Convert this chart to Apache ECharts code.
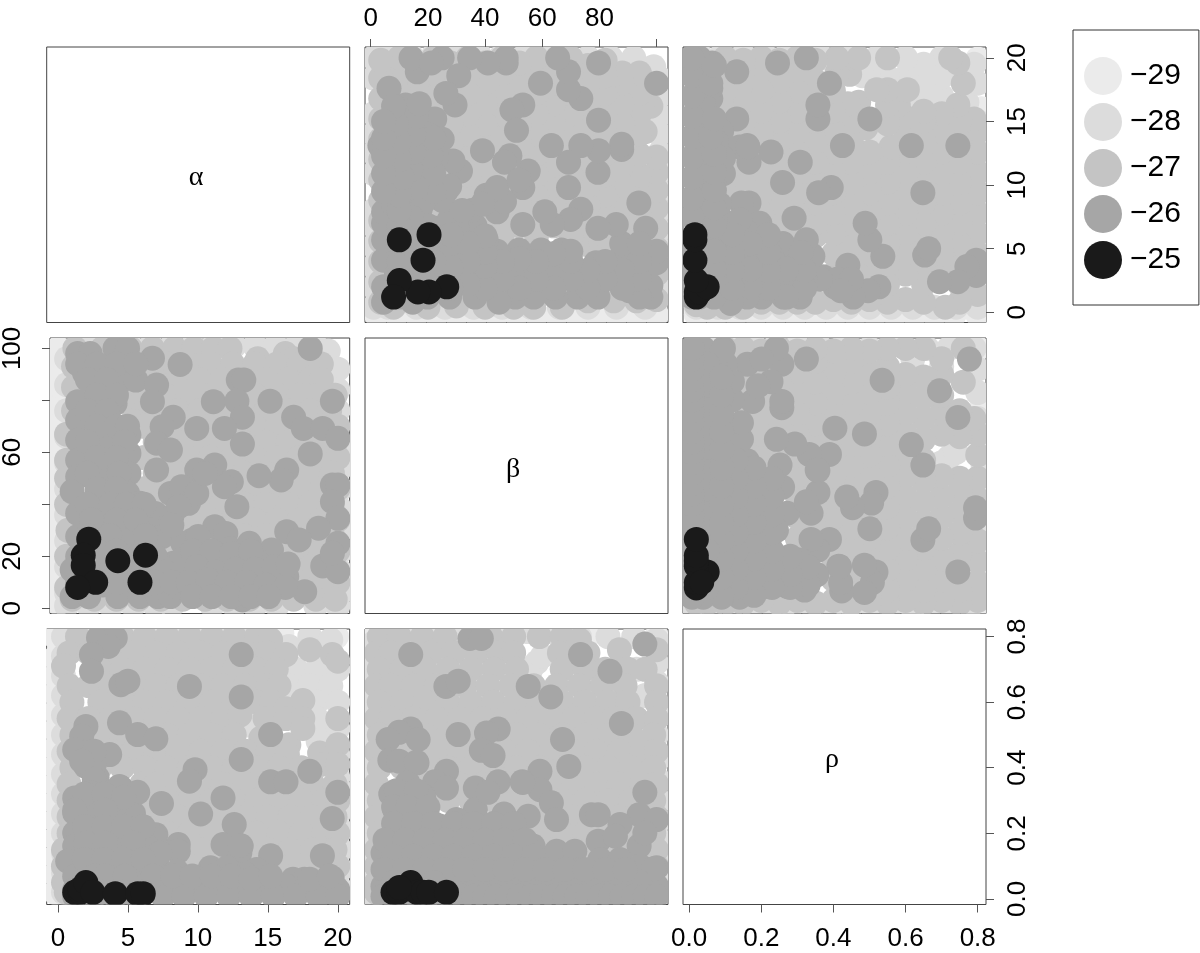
<!DOCTYPE html>
<html>
<head>
<meta charset="utf-8">
<style>
  html, body { margin: 0; padding: 0; background: #ffffff; }
  #chart { width: 1200px; height: 953px; }
</style>
<script src="https://cdn.jsdelivr.net/npm/echarts@6/dist/echarts.min.js"></script>
</head>
<body>
<div id="chart"></div>
<script>
// legend levels, lightest first (drawn first)
const levelNames = ["\u221229", "\u221228", "\u221227", "\u221226", "\u221225"];
const levelColors = ["#ebebeb", "#dcdcdc", "#c4c4c4", "#a6a6a6", "#1a1a1a"];

const alphaTicks = [0, 5, 10, 15, 20];
const betaTicks = [0, 20, 40, 60, 80, 100];
const rhoTicks = [0, 0.2, 0.4, 0.6, 0.8];
const betaTopLabels = [0, 20, 40, 60, 80];
const betaLeftLabels = [0, 20, 60, 100];

// alpha, beta
const ab29 = [
  [-0.2,2],[-0.2,9],[-0.2,16],[-0.2,23],[-0.2,30],[-0.2,37],[-0.2,44],[-0.2,51],[-0.2,58],[-0.2,65],[-0.2,72],[-0.2,79],[-0.2,86],[-0.2,93],[-0.2,100]
];
const ab28 = [
  [0.4,6],[0.4,16],[0.4,26],[0.4,36],[0.4,46],[0.4,56],[0.4,66],[0.4,76],[0.4,86],[0.4,96],
  [2,101],[3.5,101],[5,101],[6.5,101],[8,101],[9.5,101],[11,101],[12.5,101],[14,101],[15.5,101],[17,101],[18.4,101],[19.3,99],
  [20,92],[20,84],[20,76],[19.9,70],[20.2,62],[20.2,54],[20.2,46],[20.2,38],[20.2,30],[20.2,22],[20.2,14],[20.2,6],
  [0.4,1],[2,1],[3.6,1],[5.2,1],[6.8,1],[8,1],[10.9,1],[12.5,1],[14,1],[15.6,1],[18.4,1],[20,1]
];
const ab27 = [
  [1,100],[3,100],[5,100],[6.6,100],[8.2,100],[9.6,100],[11,100],[12.2,100],[14.2,96],[16.2,98],[16.8,96],[18.6,94],
  [0.9,93],[0.9,85],[0.9,76],[0.4,67],[0.4,57],[0.4,50],[0.4,40],[0.5,30],[0.4,20],[0.4,8],
  [5.2,82],[5.2,77],[5.2,72],[7.9,23],[8,26],
  [6,94],[7.6,94],[9.2,94],[10.8,94],[12.4,94],[14,94],[15.6,94],[17.2,94],[18.8,94],
  [6.8,88],[8.4,88],[10,88],[11.6,88],[13.2,88],[14.8,88],[16.4,88],[18,88],[18.8,88],
  [6,82],[7.6,82],[9.2,82],[10.8,82],[12.4,82],[14,82],[15.6,82],[17.2,82],[18.6,82],[19.8,82],
  [6.8,76],[8.4,76],[10,76],[11.6,76],[13.2,76],[14.8,76],[16.4,76],[18,76],[19.4,76],
  [6,70],[7.6,70],[9.2,70],[10.8,70],[12.4,70],[14,70],[15.6,70],[17.2,70],[18.8,70],[20,70],
  [6.8,64],[8.4,64],[10,64],[11.6,64],[13.2,64],[14.8,64],[16.4,64],[18,64],[19.6,64],
  [6,58],[7.6,58],[9.2,58],[10.8,58],[12.4,58],[14,58],[15.6,58],[17.2,58],[18.8,58],[20,58],
  [6.8,52],[8.4,52],[10,52],[11.6,52],[13.2,52],[14.8,52],[16.4,52],[18,52],[19.6,52],
  [6,46],[7.6,46],[9.2,46],[10.8,46],[12.4,46],[14,46],[15.6,46],[17.2,46],[18.8,46],[20,46],
  [6.8,40],[8.4,40],[10,40],[11.6,40],[13.2,40],[14.8,40],[16.4,40],[18,40],[19.6,40],
  [6,34],[7.6,34],[9.2,34],[10.8,34],[12.4,34],[14,34],[15.6,34],[17.2,34],[18.8,34],[20,34],
  [8.4,28],[10,28],[11.6,28],[13.2,28],[14.8,28],[16.4,28],[18,28],[19.6,28],
  [9.2,22],[10.8,22],[12.4,22],[14,22],[15.6,22],[17.2,22],[18.8,22],[20,22],
  [10,16],[11.6,16],[13.2,16],[14.8,16],[16.4,16],[18,16],[19.6,16],
  [7.6,10],[9.2,10],[10.8,10],[12.4,10],[14,10],[15.6,10],[17.2,10],[18.8,10],[20,10],
  [0.8,3.5],[2.4,3.5],[4,3.5],[5.6,3.5],[7.2,3.5],[8.8,3.5],[10.4,3.5],[12,3.5],[13.6,3.5],[15.2,3.5],[16.8,3.5],[18.4,3.5],[19.8,3.5]
];
const ab26 = [
  [18,100],[8.6,93.8],[12.8,87.8],[13.2,87.8],[11,79.5],[12.7,79.7],[15.1,79.7],[19.6,79.7],[16.8,73.5],[13.1,73.5],
  [8.1,73.5],[9.8,69.2],[11.8,69.2],[17.5,69.2],[18.9,69.2],[20,65.4],[7.3,69.9],[6.9,63.5],[7.9,60.9],[13.1,63.2],
  [18,59.4],[16.3,53.2],[15.9,49.4],[14.3,51],[9.8,53.2],[11.1,55.1],[12.3,48.7],[11.8,46.8],[6.9,53.2],[19.6,47.4],
  [20,47.4],[19.6,41],[20,34.6],[12.7,39.1],[18.6,30.8],[16.3,29.5],[17.2,26.3],[20,25],[11.1,31.4],[11.9,28.8],
  [9.5,26.3],[18.9,16.3],[20,14.1],[19.6,21.2],[17.6,6.4],[16.3,12.2],[15.2,22.4],[15.2,10.9],[14,19.9],[13.1,3.2],
  [9.9,8.3],[11.1,7.1],[11.9,8.3],[13,17.3],[11.1,17.3],[9.2,12.2],
  [1.2,98],[2.1,98],[3.9,100],[4.8,100],[1.7,90.4],[6.6,96.2],[4.4,87.8],[5.4,87.8],[6.9,85.9],[6.6,79.5],
  [3,84.6],[1.2,79.5],[3.9,78.8],[1.2,72.4],[3,72.4],[1.2,64.7],[3,64.7],[4.9,66.7],[1.2,57],[3,57],
  [4.9,59.6],[1.2,50.6],[3,49.4],[4.9,51.9],[0.8,44.9],[2.7,42.9],[4.8,44.2],[5.7,40.4],[1.2,36.5],[3,36.5],
  [4.8,36.5],[6.8,36.5],[7.9,44.2],[8.7,46.8],[8,35.3],[9.2,40.4],[9.8,44.2],[10.4,51.9],[8.5,39.1],[6.6,30.1],
  [3,30.1],[4.9,27.6],[1.2,27.6],[1.2,19.9],[3,22.4],[4.9,19.9],[6.6,23.7],[7.3,27.6],[0.8,14.7],[3,14.7],
  [4.9,14.7],[6.6,14.7],[8.1,17.3],[0.8,4.5],[2,4.5],[4.1,4.5],[5.7,4.5],[7,4.5],[7.9,4.5],[8.8,25],
  [9.9,27.6],[8.7,18.6],[3,9],[6,9],[8.5,8],[12.8,11],[14.5,14],[12.2,23],[13.6,25],
  [1.2,94],[2.6,94],[4,94],[5.4,94],[1.9,88],[3.3,88],[2.6,82],[4,82],[1.9,76],[3.3,76],
  [2.6,70],[4,70],[4.8,70],[1.9,64],[4.6,64],[2.6,58],[4,58],[1.9,52],[4.2,52],[2.6,46],
  [4,46],[1.9,40],[3.6,40],[4.7,40],[6,40],[2.2,34],[4,34],[5.4,34],[8,32],[1.9,28],
  [3.5,28],[6.1,28],[2.6,22],[4,22],[5.6,20],[6.8,20],[1.9,16],[4,16],[6,16],[7.5,14],
  [1.2,10],[2.6,10],[4,10],[5.4,10],[6.8,10],[8,10],
  [9.5,22],[10.9,22],[12.3,21],[13.7,22],[9.8,16],[11.2,14],[12.6,15],[14,15],[15.4,16],[16.4,17],
  [9.2,10],[10.6,11],[12,10],[13.4,10],[14.8,9],[16.2,8],[9.5,4.5],[10.9,4.5],[12.3,4.5],[13.7,4.5],[15,4.5]
];
const ab25 = [
  [2,26.6],[1.6,20.4],[1.6,16.5],[2.5,10],[1.2,8],[4.1,18.3],[6.1,20.4],[5.7,10]
];

// alpha, rho
const ar29 = [
  [-0.2,0.02],[-0.2,0.075],[-0.2,0.13],[-0.2,0.185],[-0.2,0.24],[-0.2,0.295],[-0.2,0.35],[-0.2,0.405],[-0.2,0.46],[-0.2,0.515],[-0.2,0.57],[-0.2,0.625],[-0.2,0.68],[-0.2,0.735],[-0.2,0.8],
  [16,0.81],[19.9,0.8]
];
const ar28 = [
  [0.4,0.02],[0.4,0.08],[0.4,0.14],[0.4,0.2],[0.4,0.26],[0.4,0.32],[0.4,0.38],[0.4,0.44],[0.4,0.5],[0.4,0.56],[0.4,0.62],[0.4,0.68],[0.4,0.74],[0.4,0.8],
  [2,0.81],[3.5,0.81],[5,0.81],[6.5,0.81],[8,0.81],[9.5,0.81],[11,0.81],[12.5,0.81],[14,0.81],[15,0.8],[16.5,0.77],[18,0.8],[19.5,0.79],
  [17,0.7],[18.5,0.7],[20,0.7],[16.5,0.65],[18,0.65],[19.5,0.65],[17,0.6],[18.5,0.6],[20,0.6],
  [18.5,0.55],[19.2,0.5],[20,0.52],[18.6,0.48],[20,0.44],[13.5,0.53],[20,0.37],
  [20.2,0.33],[20.2,0.27],[20.2,0.21],[20.2,0.15],[20.2,0.09],[20.2,0.03]
];
const ar27 = [
  [1.4,0.8],[3,0.8],[4.6,0.8],[6.2,0.8],[7.8,0.8],[9.4,0.8],[11,0.8],[12.6,0.8],[14.2,0.8],[15.2,0.79],
  [0.8,0.75],[2.2,0.75],[3.8,0.75],[5.4,0.75],[7,0.75],[8.6,0.75],[10.2,0.75],[11.8,0.75],[13.4,0.75],[15,0.75],[16.3,0.745],[18,0.76],[19.6,0.745],[20,0.725],
  [0.4,0.71],[3,0.7],[4.6,0.7],[6.2,0.7],[7.8,0.7],[9.4,0.7],[11,0.7],[12.6,0.7],[14.2,0.7],[15.6,0.7],
  [0.8,0.65],[2.2,0.65],[3.8,0.65],[5.4,0.65],[7,0.65],[8.6,0.65],[10.2,0.65],[11.8,0.65],[13.4,0.65],[15,0.65],[15.8,0.65],
  [1,0.6],[3,0.6],[4.6,0.6],[6.2,0.6],[7.8,0.6],[9.4,0.6],[11,0.6],[12.6,0.6],[14.2,0.6],[15.3,0.6],[16.3,0.58],[17.5,0.605],
  [0.8,0.55],[2.2,0.55],[3.8,0.55],[5.4,0.55],[7,0.55],[8.6,0.55],[10.2,0.55],[11.8,0.55],[13,0.56],[14.8,0.55],[16.3,0.55],[17.5,0.55],[20,0.55],
  [1,0.5],[3,0.5],[4.6,0.5],[6.2,0.5],[7.8,0.5],[9.4,0.5],[11,0.5],[12.6,0.5],[14.5,0.49],[16.5,0.47],[17.5,0.52],
  [0.8,0.45],[2.2,0.45],[3.8,0.45],[5.4,0.45],[7,0.45],[8.6,0.45],[10.2,0.45],[11.8,0.45],[13.4,0.45],[15,0.45],[16.4,0.44],[18.7,0.445],[20,0.47],
  [1,0.4],[3,0.4],[4.6,0.4],[6.2,0.4],[7.8,0.4],[9.4,0.4],[11,0.4],[12.6,0.4],[14.2,0.4],[15.8,0.4],[17.4,0.4],[18.8,0.41],[20,0.41],
  [0.8,0.35],[6,0.35],[7,0.35],[8.6,0.35],[10.2,0.35],[11.8,0.35],[13.4,0.35],[15,0.35],[16.6,0.35],[18.2,0.35],[19.8,0.35],
  [0.8,0.3],[6.2,0.3],[7.8,0.3],[9.4,0.3],[11,0.3],[12.6,0.3],[14.2,0.3],[15.8,0.3],[17.4,0.3],[19,0.3],[20,0.3],
  [0.8,0.25],[7,0.25],[8.6,0.25],[10.2,0.25],[11.8,0.25],[13.4,0.25],[15,0.25],[16.6,0.25],[18.2,0.25],[19.8,0.25],
  [0.8,0.2],[7.8,0.2],[9.4,0.2],[11,0.2],[12.6,0.2],[14.2,0.2],[15.8,0.2],[17.4,0.2],[19,0.2],[20,0.2],
  [0.4,0.15],[8.6,0.15],[10.2,0.15],[11.8,0.15],[13.4,0.15],[15,0.15],[16.6,0.15],[18.2,0.15],[19.8,0.15],
  [0.4,0.1],[9.4,0.1],[11,0.1],[12.6,0.1],[14.2,0.1],[15.8,0.1],[17.4,0.1],[19,0.1],[20,0.1],
  [0.4,0.05],[0.6,0.02]
];
const ar26 = [
  [2.9,0.796],[4.1,0.796],[3.6,0.77],[2.4,0.745],[2.4,0.694],[4.5,0.653],[5,0.664],[9.4,0.648],[13.1,0.745],[13.1,0.616],
  [4.4,0.537],[5.7,0.501],[7,0.488],[2,0.526],[1.7,0.496],[1.2,0.455],[3.7,0.44],[2,0.404],[9.8,0.394],[9.4,0.359],
  [13.1,0.425],[15.2,0.501],[15.2,0.357],[16.3,0.357],[18,0.389],[20,0.325],[19.6,0.245],[11.8,0.308],[7.4,0.291],[10.2,0.259],
  [12.6,0.227],[11.8,0.166],[13.1,0.161],[8.6,0.166],[15.2,0.132],[18.9,0.132],[19.6,0.064],[8.6,0.145],[7,0.196],[5.9,0.19],
  [5.4,0.26],[4.5,0.339],[2.8,0.371],[13,0.14],[13,0.163],[2.6,0.41],[2.6,0.45],[1.7,0.42],
  [1.2,0.308],[1.2,0.262],[1.2,0.201],[1.2,0.161],[0.7,0.115],[1.2,0.069],[1.2,0.028],[2.6,0.364],[2.4,0.323],[2.6,0.267],
  [2.6,0.211],[2.6,0.161],[2.6,0.11],[4.4,0.343],[5.7,0.325],[4.1,0.293],[5.3,0.257],[4.2,0.232],[5.6,0.216],[4.1,0.171],
  [6.9,0.191],[6.3,0.161],[4.1,0.11],[5.4,0.11],[6.7,0.11],[4.1,0.064],[5.6,0.064],[7.3,0.089],[7.3,0.14],[8.5,0.084],
  [10.9,0.095],[12.1,0.095],[14.2,0.09],[13.4,0.075],[10.4,0.069],[16.8,0.06],[17.6,0.06],
  [7.8,0.039],[9.2,0.039],[10.6,0.039],[12.1,0.039],[13.5,0.039],[14.9,0.039],[16.3,0.039],[17.8,0.039],[19.2,0.028],[20,0.028],
  [1.2,0.008],[2.6,0.008],[4.1,0.008],[5.6,0.008],[7.5,0.008],[9,0.008],[10.6,0.008],[12.2,0.008],[13.8,0.008],[15.4,0.008],[17,0.008],[18.6,0.008],[20,0.008],
  [1.9,0.32],[3.3,0.32],[4.7,0.31],[1.2,0.27],[3.4,0.27],[1.9,0.22],[3.3,0.22],[4.7,0.22],[6.1,0.22],[2,0.17],
  [3.4,0.17],[5.4,0.17],[1.9,0.12],[3.3,0.12],[4.7,0.12],[6.1,0.12],[2.6,0.07],[3.4,0.07],[4.8,0.07],[6.8,0.07],
  [8.2,0.07],[1.9,0.02],[3.3,0.02],[4.7,0.02],[6.1,0.02],[9.6,0.07],[11,0.07],[12.4,0.07],[13.8,0.06],[15.2,0.07],
  [18,0.06],[19.4,0.07]
];
const ar25 = [
  [1.2,0.02],[1.6,0.02],[1.6,0.03],[2,0.05],[2.5,0.02],[4.1,0.016],[5.7,0.016],[6.1,0.016]
];

// beta, rho
const br29 = [
  [0,0.8],[0,0.62],[0,0.44],[0,0.26],[100,0.8],[77,0.81]
];
const br28 = [
  [1,0.01],[1,0.065],[1,0.12],[1,0.175],[1,0.23],[1,0.285],[1,0.34],[1,0.395],[1,0.45],[1,0.505],[1,0.56],[1,0.615],[1,0.67],[1,0.725],[1,0.78],
  [5,0.815],[10,0.815],[15,0.815],[20,0.815],[25,0.815],[30,0.815],[35,0.815],[40,0.815],[45,0.815],[50,0.815],[58,0.72],[56,0.7],[60,0.74],[55,0.815],[62,0.815],[68,0.815],[73,0.8],[83,0.8],[92,0.8],[100,0.79],[100,0.72],[100,0.66],
  [96,0.62],[81,0.63],[93,0.7],[101,0.56],[100,0.5],[100,0.42],[101,0.36],[101,0.3],[101,0.24],[101,0.18],[101,0.12],[101,0.06],[101,0.02]
];
const br27 = [
  [3,0.8],[10,0.8],[18,0.8],[26,0.8],[42,0.8],[50,0.8],[59,0.8],[67,0.8],[73,0.79],
  [2,0.75],[7,0.75],[21,0.75],[29,0.75],[37,0.75],[45,0.75],[50,0.75],[66,0.75],[76,0.75],[87,0.76],[100,0.76],
  [3,0.7],[11,0.7],[19,0.7],[27,0.7],[35,0.7],[43,0.7],[51,0.7],[67,0.7],[75,0.7],[82,0.7],[90,0.7],[96,0.7],
  [2,0.65],[7,0.65],[15,0.65],[23,0.65],[33,0.65],[41,0.65],[49,0.65],[57,0.65],[65,0.65],[73,0.65],[81,0.65],[89,0.65],[100,0.65],
  [3,0.6],[11,0.6],[19,0.6],[27,0.6],[35,0.6],[43,0.6],[51,0.6],[59,0.6],[67,0.6],[75,0.6],[83,0.6],[90,0.6],[100,0.6],
  [2,0.55],[7,0.55],[15,0.55],[23,0.55],[31,0.55],[39,0.55],[47,0.55],[55,0.55],[63,0.55],[71,0.55],[79,0.55],[85,0.55],[93,0.55],[100,0.55],
  [3,0.5],[11,0.5],[19,0.5],[27,0.5],[35,0.5],[43,0.5],[51,0.5],[59,0.5],[67,0.5],[75,0.5],[83,0.5],[91,0.5],[99,0.5],
  [2,0.45],[7,0.45],[15,0.45],[23,0.45],[31,0.45],[39,0.45],[47,0.45],[55,0.45],[63,0.45],[71,0.45],[79,0.45],[87,0.45],[95,0.45],[100,0.45],
  [3,0.4],[11,0.4],[19,0.4],[27,0.4],[35,0.4],[43,0.4],[51,0.4],[59,0.4],[67,0.4],[75,0.4],[83,0.4],[91,0.4],[99,0.4],
  [2,0.35],[23,0.35],[31,0.35],[39,0.35],[47,0.35],[55,0.35],[63,0.35],[71,0.35],[79,0.35],[87,0.35],[95,0.35],[100,0.35],
  [3,0.3],[27,0.3],[35,0.3],[43,0.3],[51,0.3],[59,0.3],[67,0.3],[75,0.3],[83,0.3],[91,0.3],[99,0.3],
  [2,0.25],[55,0.25],[63,0.25],[71,0.25],[79,0.25],[87,0.25],[95,0.25],[100,0.25],
  [3,0.2],[51,0.2],[59,0.2],[67,0.2],[75,0.2],[83,0.2],[91,0.2],[99,0.2],
  [2,0.15],[63,0.15],[71,0.15],[79,0.15],[87,0.15],[95,0.15],[100,0.15],
  [2,0.1],[2,0.05],[2,0.02],[100,0.1]
];
const br26 = [
  [95.9,0.777],[73.4,0.745],[83.7,0.694],[14,0.745],[34.7,0.794],[38.7,0.794],[26.3,0.648],[30.6,0.664],[55.1,0.648],[63,0.616],
  [87.7,0.535],[67.1,0.486],[69.3,0.404],[30.6,0.501],[44.6,0.518],[40.5,0.506],[38.7,0.453],[42.8,0.437],[14,0.518],[9.9,0.508],
  [6.1,0.486],[16.6,0.486],[6.7,0.423],[9.9,0.42],[16.2,0.415],[59.2,0.389],[26.5,0.389],[22.4,0.357],[26.5,0.338],[36.6,0.338],
  [44.6,0.357],[53,0.357],[59.2,0.333],[63.2,0.293],[65,0.242],[55.1,0.252],[95.9,0.325],[77.2,0.257],[79.6,0.257],[93.9,0.257],
  [100,0.242],[87.2,0.227],[79.6,0.176],[85.6,0.191],[93.9,0.161],[95.9,0.201],[56.8,0.161],[65,0.145],[71.4,0.145],[46.6,0.259],
  [36.6,0.272],[30,0.242],[24.1,0.222],[8.4,0.323],[13,0.354],[18.3,0.313],[8.4,0.272],[13.6,0.283],[8.4,0.211],[17.1,0.242],
  [14.8,0.191],[4.3,0.14],[4.3,0.039],[11.3,0.14],[19.5,0.171],[25.3,0.161],[31.1,0.181],[31.1,0.12],[24.1,0.1],[11.3,0.089],
  [46.3,0.191],[39.3,0.201],[45.7,0.14],[38.7,0.069],[51,0.12],[58,0.089],[66,0.069],[73.2,0.089],[80.2,0.12],[87.2,0.12],
  [94.2,0.1],[100,0.095],[100,0.039],[99,0.092],[41,0.325],[53.2,0.355],[18.6,0.307],[16,0.417],[7,0.32],[12.8,0.353],
  [4.3,0.09],[18,0.08],[18,0.14],
  [30,0.05],[38,0.05],[46,0.05],[54,0.05],[62,0.05],[70,0.05],[78,0.05],[86,0.05],[94,0.05],
  [4.3,0.008],[8,0.008],[12,0.008],[16,0.008],[20,0.008],[24,0.008],[28,0.008],[32,0.008],[36,0.008],[40,0.008],[44,0.008],[48,0.008],[52,0.008],[56,0.008],[60,0.008],
  [64,0.008],[68,0.008],[72,0.008],[76,0.008],[80,0.008],[84,0.008],[88,0.008],[92,0.008],[96,0.008],[100,0.008],
  [9,0.33],[16,0.33],[8,0.28],[13,0.28],[20,0.28],[8,0.23],[15,0.23],[22,0.23],[29,0.23],[36,0.23],
  [43,0.23],[50,0.23],[5,0.18],[12,0.18],[19,0.18],[26,0.18],[33,0.18],[40,0.18],[47,0.18],[54,0.18],
  [8,0.13],[15,0.13],[22,0.13],[29,0.13],[36,0.13],[43,0.13],[50,0.13],[57,0.13],[5,0.09],[12,0.09],
  [19,0.09],[26,0.09],[33,0.09],[40,0.09],[47,0.09],[54,0.09],[61,0.09],[68,0.09],[75,0.09],[82,0.09],
  [89,0.09],[8,0.05],[15,0.05],[22,0.05]
];
const br25 = [
  [7.8,0.02],[9.9,0.02],[14,0.05],[16.2,0.02],[18.3,0.02],[20.3,0.02],[26.5,0.02],[10,0.035]
];

const abLevels = [ab29, ab28, ab27, ab26, ab25];
const arLevels = [ar29, ar28, ar27, ar26, ar25];
const brLevels = [br29, br28, br27, br26, br25];

const alphaRange = [-0.8, 20.85];
const betaRange = [-2, 104];
const rhoRange = [-0.017, 0.823];

const panelLeft = [46.7, 365, 683];
const panelTop = [47, 338, 629];
const panelW = 303;
const panelH = 275.5;
const pointRadius = 12.5;
const tickColor = "#555555";
const labelFont = "Liberation Sans";
const labelSize = 26;

const swap = (pts) => pts.map((p) => [p[1], p[0]]);
const oneDecimal = (v) => v.toFixed(1);

function makeAxis(range, position, ticks, labels, rotate, margin, formatter) {
  let axis = {
    type: "value",
    min: range[0],
    max: range[1],
    splitLine: { show: false },
    axisLine: { show: false, onZero: false },
  };
  if (!position) {
    axis.show = false;
    return axis;
  }
  axis.position = position;
  axis.axisTick = {
    show: true,
    length: 8,
    lineStyle: { color: tickColor, width: 1 },
    customValues: ticks,
  };
  axis.axisLabel = {
    show: true,
    customValues: labels,
    color: "#000000",
    fontFamily: labelFont,
    fontSize: labelSize,
    rotate: rotate,
    margin: margin,
    formatter: formatter || ((v) => String(v)),
  };
  return axis;
}

// row, col, x axis, y axis, point levels
const panels = [
  { r: 0, c: 0, x: makeAxis(alphaRange), y: makeAxis(alphaRange) },
  { r: 0, c: 1, x: makeAxis(betaRange, "top", betaTicks, betaTopLabels, 0, 15), y: makeAxis(alphaRange), levels: abLevels.map(swap) },
  { r: 0, c: 2, x: makeAxis(rhoRange), y: makeAxis(alphaRange, "right", alphaTicks, alphaTicks, 90, 19), levels: arLevels.map(swap) },
  { r: 1, c: 0, x: makeAxis(alphaRange), y: makeAxis(betaRange, "left", betaTicks, betaLeftLabels, 90, 24), levels: abLevels },
  { r: 1, c: 1, x: makeAxis(betaRange), y: makeAxis(betaRange) },
  { r: 1, c: 2, x: makeAxis(rhoRange), y: makeAxis(betaRange), levels: brLevels.map(swap) },
  { r: 2, c: 0, x: makeAxis(alphaRange, "bottom", alphaTicks, alphaTicks, 0, 21), y: makeAxis(rhoRange), levels: arLevels },
  { r: 2, c: 1, x: makeAxis(betaRange), y: makeAxis(rhoRange), levels: brLevels },
  {
    r: 2, c: 2,
    x: makeAxis(rhoRange, "bottom", rhoTicks, rhoTicks, 0, 21, oneDecimal),
    y: makeAxis(rhoRange, "right", rhoTicks, rhoTicks, 90, 19, oneDecimal),
  },
];

// custom series, because scatter does not cut its circles at the panel edge
function renderPoint(params, api) {
  let pos = api.coord([api.value(0), api.value(1)]);
  return {
    type: "circle",
    shape: { cx: pos[0], cy: pos[1], r: pointRadius },
    style: { fill: api.visual("color") },
  };
}

let grids = [];
let xAxes = [];
let yAxes = [];
let series = [];
panels.forEach((p, i) => {
  grids.push({
    show: true,
    left: panelLeft[p.c],
    top: panelTop[p.r],
    width: panelW,
    height: panelH,
    backgroundColor: "#ffffff",
    borderColor: "#444444",
    borderWidth: 1,
    containLabel: false,
  });
  xAxes.push(Object.assign({ gridIndex: i }, p.x));
  yAxes.push(Object.assign({ gridIndex: i }, p.y));
  if (!p.levels) return;
  p.levels.forEach((pts, k) => {
    series.push({
      name: levelNames[k],
      type: "custom",
      coordinateSystem: "cartesian2d",
      xAxisIndex: i,
      yAxisIndex: i,
      data: pts,
      encode: { x: 0, y: 1 },
      renderItem: renderPoint,
      clip: true,
      z: 2 + k,
      silent: true,
      itemStyle: { color: levelColors[k], opacity: 1 },
    });
  });
});

function symbolLabel(text, x, y) {
  return {
    type: "text",
    x: x,
    y: y,
    style: {
      text: text,
      font: "28px 'Liberation Serif'",
      fill: "#000000",
      align: "center",
      verticalAlign: "middle",
    },
  };
}

let myChart = echarts.init(document.getElementById("chart"), null, { renderer: "canvas" });
myChart.setOption({
  animation: false,
  backgroundColor: "#ffffff",
  grid: grids,
  xAxis: xAxes,
  yAxis: yAxes,
  series: series,
  legend: {
    left: 1073,
    top: 30,
    orient: "vertical",
    data: levelNames,
    icon: "circle",
    itemWidth: 38,
    itemHeight: 38,
    itemGap: 8,
    padding: [27, 18, 26, 11],
    borderColor: "#333333",
    borderWidth: 1,
    selectedMode: false,
    textStyle: { fontFamily: labelFont, fontSize: 30, color: "#000000", padding: [0, 0, 6, 3] },
  },
  graphic: [
    symbolLabel("\u03b1", 196, 178),
    symbolLabel("\u03b2", 513, 470),
    symbolLabel("\u03c1", 832, 760),
  ],
});
</script>
</body>
</html>
